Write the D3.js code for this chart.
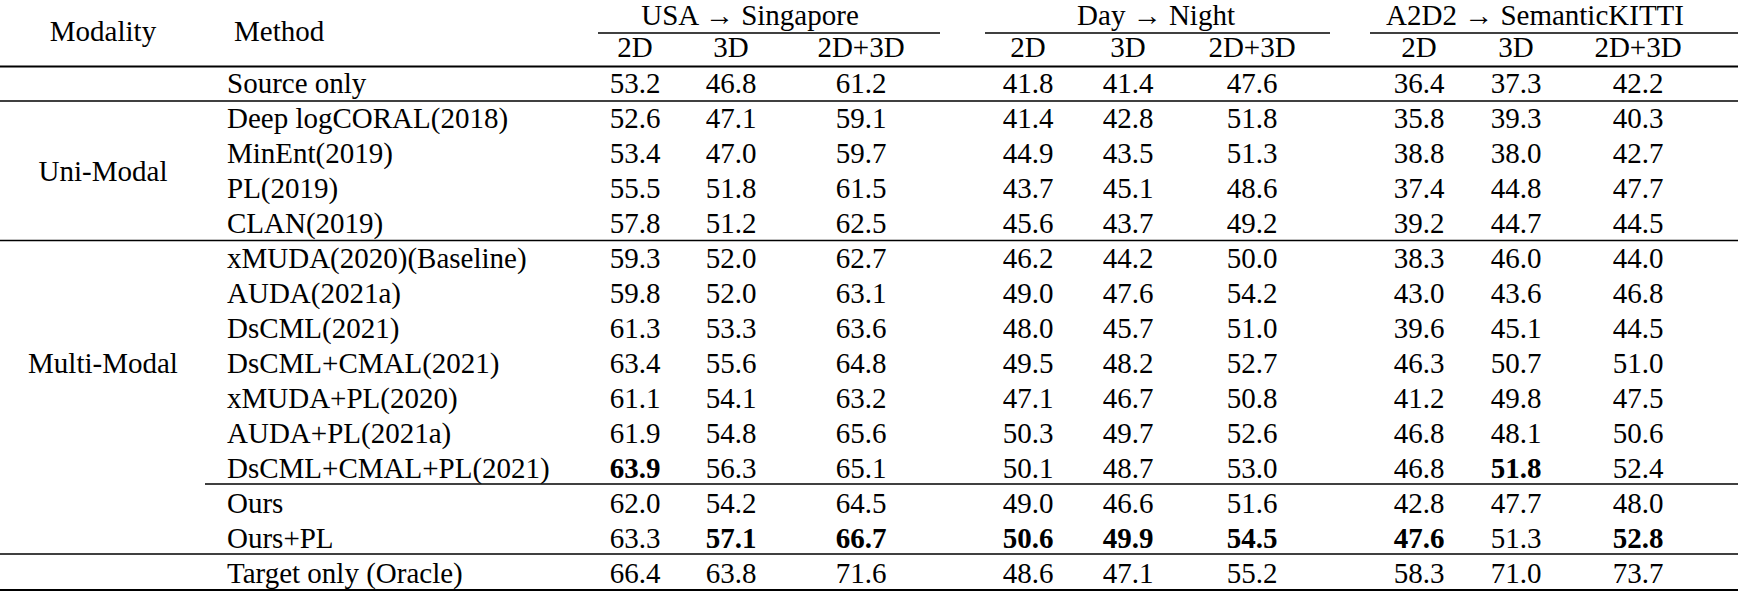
<!DOCTYPE html><html><head><meta charset="utf-8"><script src="https://cdn.jsdelivr.net/npm/d3@7"></script>
<style>body{margin:0;background:#fff}text{font-family:"Liberation Serif","Times New Roman",serif;fill:#000}</style></head><body><svg id="c" width="1738" height="595"></svg><script>
const groups=["USA → Singapore","Day → Night","A2D2 → SemanticKITTI"];
const subCols=["2D","3D","2D+3D"];
const methods=["Source only","Deep logCORAL(2018)","MinEnt(2019)","PL(2019)","CLAN(2019)","xMUDA(2020)(Baseline)","AUDA(2021a)","DsCML(2021)","DsCML+CMAL(2021)","xMUDA+PL(2020)","AUDA+PL(2021a)","DsCML+CMAL+PL(2021)","Ours","Ours+PL","Target only (Oracle)"];
const values=[
[53.2,46.8,61.2,41.8,41.4,47.6,36.4,37.3,42.2],
[52.6,47.1,59.1,41.4,42.8,51.8,35.8,39.3,40.3],
[53.4,47.0,59.7,44.9,43.5,51.3,38.8,38.0,42.7],
[55.5,51.8,61.5,43.7,45.1,48.6,37.4,44.8,47.7],
[57.8,51.2,62.5,45.6,43.7,49.2,39.2,44.7,44.5],
[59.3,52.0,62.7,46.2,44.2,50.0,38.3,46.0,44.0],
[59.8,52.0,63.1,49.0,47.6,54.2,43.0,43.6,46.8],
[61.3,53.3,63.6,48.0,45.7,51.0,39.6,45.1,44.5],
[63.4,55.6,64.8,49.5,48.2,52.7,46.3,50.7,51.0],
[61.1,54.1,63.2,47.1,46.7,50.8,41.2,49.8,47.5],
[61.9,54.8,65.6,50.3,49.7,52.6,46.8,48.1,50.6],
[63.9,56.3,65.1,50.1,48.7,53.0,46.8,51.8,52.4],
[62.0,54.2,64.5,49.0,46.6,51.6,42.8,47.7,48.0],
[63.3,57.1,66.7,50.6,49.9,54.5,47.6,51.3,52.8],
[66.4,63.8,71.6,48.6,47.1,55.2,58.3,71.0,73.7]];
const bold=[[11,0],[13,1],[13,2],[13,3],[13,4],[13,5],[13,6],[11,7],[13,8]];
const modalities=[{name:"Uni-Modal",from:1,to:4},{name:"Multi-Modal",from:5,to:11}];
const colX=[635,731,861,1028,1128,1252,1419,1516,1638];
const groupX=[750,1156,1535];
const svg=d3.select("#c");
const y=d3.scaleLinear().domain([0,14]).range([83,573]);
const fs=29;
function t(x,yy,s,anchor,w){svg.append("text").attr("x",x).attr("y",yy).attr("dy","0.35em").attr("text-anchor",anchor||"middle").attr("font-size",fs).attr("font-weight",w||"normal").text(s);}
function line(x1,x2,yy,sw){svg.append("line").attr("x1",x1).attr("x2",x2).attr("y1",yy).attr("y2",yy).attr("stroke","#000").attr("stroke-width",sw||1.3);}
t(103,31,"Modality");t(234,31,"Method","start");
groups.forEach((g,i)=>t(groupX[i],15,g));
const spans=[[598,940],[985,1330],[1370,1738]];
spans.forEach(s=>line(s[0],s[1],33));
colX.forEach((x,i)=>t(x,47,subCols[i%3]));
methods.forEach((m,r)=>{t(227,y(r),m,"start");values[r].forEach((v,c)=>{const b=bold.some(d=>d[0]===r&&d[1]===c);t(colX[c],y(r),v.toFixed(1),"middle",b?"bold":"normal");});});
modalities.forEach(m=>t(103,(y(m.from)+y(m.to))/2,m.name));
line(0,1738,66.5,1.8);line(0,1738,101);line(0,1738,240.5);line(205,1738,484);line(0,1738,554);line(0,1738,590,1.8);
</script></body></html>
